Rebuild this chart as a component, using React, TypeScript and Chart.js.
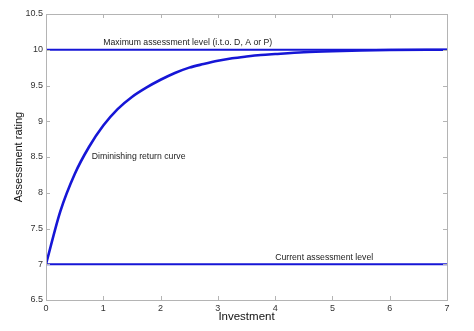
import { useEffect, useRef } from "react";
import { Chart, registerables } from "chart.js";

Chart.register(...registerables);

// Diminishing return curve
const curveX = [0, 0.25, 0.5, 0.75, 1, 1.25, 1.5, 1.75, 2, 2.25, 2.5, 2.75, 3, 3.25, 3.5, 3.75, 4, 4.5, 5, 5.5, 6, 7];
const curveY = [7, 7.74, 8.26, 8.64, 8.94, 9.17, 9.34, 9.47, 9.58, 9.675, 9.75, 9.8, 9.845, 9.88, 9.905, 9.926, 9.94, 9.965, 9.98, 9.99, 9.997, 10];

const maxLevel = 10;
const currentLevel = 7;
const xRange = [0, 7];
const yRange = [6.5, 10.5];

const labelTexts = [
  "Maximum assessment level (i.t.o. D, A or P)",
  "Diminishing return curve",
  "Current assessment level",
];
const labelX = [1.0, 0.8, 4.0];
const labelY = [maxLevel, 8.5, currentLevel];
const labelAbove = [true, false, true];

const BLUE = "rgb(22,22,214)";
const FONT = "'Liberation Sans', Arial, sans-serif";

const framePlugin = {
  id: "frame",
  afterDraw(chart: any) {
    const { ctx, chartArea: a, scales } = chart;
    ctx.save();
    ctx.strokeStyle = "#b4b4b4";
    ctx.lineWidth = 1;
    ctx.strokeRect(Math.round(a.left) + 0.5, Math.round(a.top) + 0.5, Math.round(a.right - a.left), Math.round(a.bottom - a.top));
    const tl = 4;
    ctx.beginPath();
    for (const v of scales.x.ticks.map((t: any) => t.value)) {
      const px = Math.round(scales.x.getPixelForValue(v)) + 0.5;
      ctx.moveTo(px, a.bottom);
      ctx.lineTo(px, a.bottom - tl);
      ctx.moveTo(px, a.top);
      ctx.lineTo(px, a.top + tl);
    }
    for (const v of scales.y.ticks.map((t: any) => t.value)) {
      const py = Math.round(scales.y.getPixelForValue(v)) + 0.5;
      ctx.moveTo(a.left, py);
      ctx.lineTo(a.left + tl, py);
      ctx.moveTo(a.right, py);
      ctx.lineTo(a.right - tl, py);
    }
    ctx.stroke();
    ctx.restore();
  },
  afterDatasetsDraw(chart: any) {
    const { ctx, scales } = chart;
    ctx.save();
    ctx.fillStyle = "#222";
    ctx.font = `8.7px ${FONT}`;
    ctx.textAlign = "left";
    ctx.textBaseline = "middle";
    labelTexts.forEach((t, i) => {
      const px = scales.x.getPixelForValue(labelX[i]);
      let py = scales.y.getPixelForValue(labelY[i]);
      if (labelAbove[i]) py -= 7;
      ctx.fillText(t, px, py);
    });
    ctx.restore();
  },
};

export default function App() {
  const ref = useRef<HTMLCanvasElement>(null);
  useEffect(() => {
    document.body.style.margin = "0";
    const chart = new Chart(ref.current!, {
      type: "scatter",
      data: {
        datasets: [
          {
            data: xRange.map((x) => ({ x, y: maxLevel })),
            showLine: true,
            borderColor: BLUE,
            borderWidth: 2.2,
            pointRadius: 0,
            order: 2,
          },
          {
            data: xRange.map((x) => ({ x, y: currentLevel })),
            showLine: true,
            borderColor: BLUE,
            borderWidth: 2.2,
            pointRadius: 0,
            order: 2,
          },
          {
            data: curveX.map((x, i) => ({ x, y: curveY[i] })),
            showLine: true,
            borderColor: BLUE,
            borderWidth: 2.6,
            pointRadius: 0,
            cubicInterpolationMode: "monotone",
            order: 1,
          },
        ],
      },
      options: {
        animation: false,
        responsive: false,
        maintainAspectRatio: false,
        layout: { padding: { top: 14, right: 27, left: 0, bottom: 0 } },
        plugins: { legend: { display: false }, tooltip: { enabled: false } },
        scales: {
          x: {
            type: "linear",
            min: xRange[0],
            max: xRange[1],
            afterFit: (s: any) => {
              s.height = 31;
            },
            grid: { display: false, drawTicks: false },
            border: { display: false },
            ticks: {
              stepSize: 1,
              padding: 3,
              color: "#333",
              font: { size: 9, family: FONT },
              callback: (v: any) => String(v),
            },
            title: {
              display: true,
              text: "Investment",
              color: "#111",
              font: { size: 11.5, family: FONT },
              padding: { top: 0, bottom: 7.1 },
            },
          },
          y: {
            type: "linear",
            min: yRange[0],
            max: yRange[1],
            afterFit: (s: any) => {
              s.width = 46;
            },
            grid: { display: false, drawTicks: false },
            border: { display: false },
            ticks: {
              stepSize: 0.5,
              padding: 3,
              color: "#333",
              font: { size: 9, family: FONT },
              callback: (v: any) => String(v),
            },
            title: {
              display: true,
              text: "Assessment rating",
              color: "#111",
              font: { size: 11, family: FONT },
              padding: { top: 12.4, bottom: 0 },
            },
          },
        },
      },
      plugins: [framePlugin],
    } as any);
    return () => chart.destroy();
  }, []);
  return (
    <div style={{ position: "fixed", left: 0, top: 0, width: 474, height: 331, background: "#fff" }}>
      <canvas ref={ref} width={474} height={331} style={{ width: 474, height: 331 }} />
    </div>
  );
}
